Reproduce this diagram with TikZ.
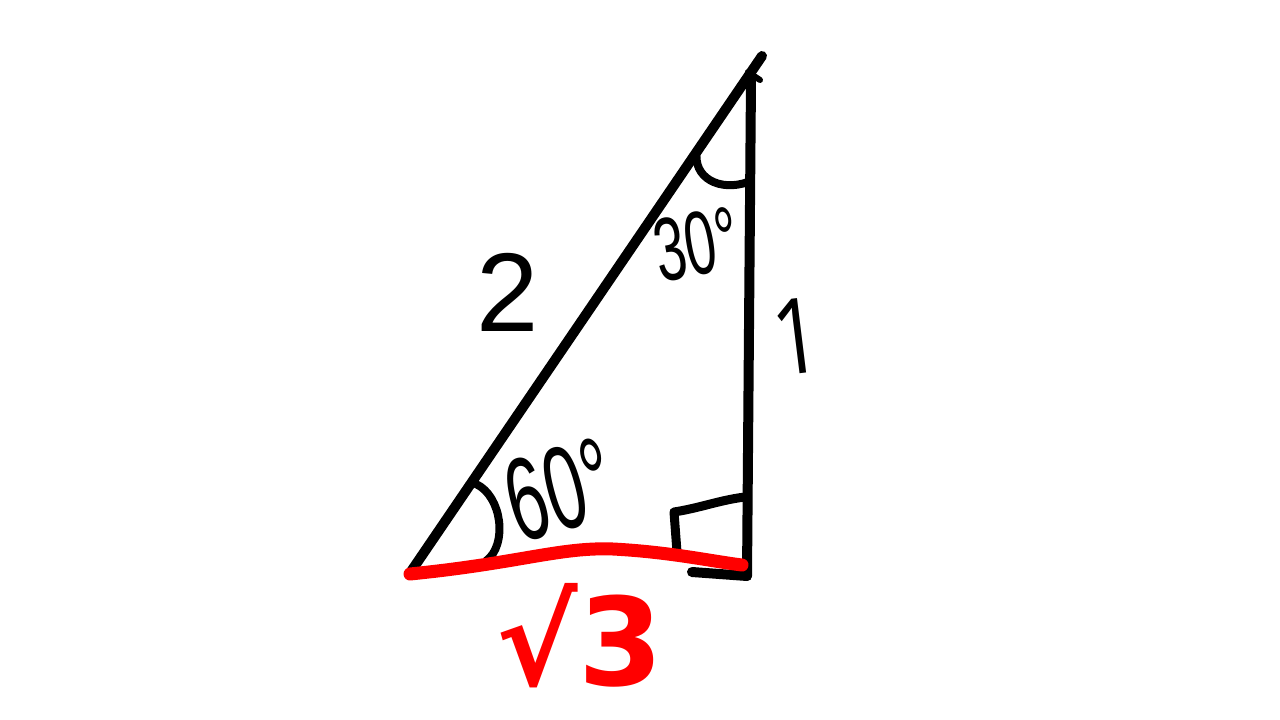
\documentclass[tikz,border=0pt]{standalone}
\usepackage{fontspec}
\setmainfont{Liberation Sans}
\newfontfamily\djv{DejaVu Sans}
\newfontfamily\opn{Open Sans}
\begin{document}
\begin{tikzpicture}[x=1pt,y=-1pt,
  ink/.style={line width=10pt,line cap=round,line join=round,black},
  thin ink/.style={line width=8pt,line cap=round,line join=round,black},
  redink/.style={line width=13pt,line cap=round,line join=round,red},
  lbl/.style={inner sep=0pt,outer sep=0pt}]
\useasboundingbox[fill=white] (0,0) rectangle (1280,720);
% vertices
\coordinate (A) at (410,573);
\coordinate (C) at (762,56);
\coordinate (T) at (751,80);
\coordinate (B) at (747,576);
\coordinate (Bm) at (692,572);
% sides
\draw[ink] (A) -- (C);
\draw[ink] (T) -- (B);
\draw[ink] (Bm) -- (B);
\coordinate (t1) at (748,72);
\coordinate (t2) at (760,80);
\draw[thin ink,line width=6pt] (t1) -- (t2);
% right angle mark
\coordinate (r1) at (677,552);
\coordinate (r2) at (674,512);
\coordinate (r3) at (745,497);
\draw[thin ink,line width=9pt] (r1) -- (r2) .. controls (700,508) and (720,500) .. (r3);
% angle arcs
\coordinate (a1) at (476,484);
\coordinate (a2) at (486,561);
\draw[thin ink] (a1) .. controls (502,496) and (508,545) .. (a2);
\coordinate (c1) at (697,150);
\coordinate (c2) at (748,182);
\draw[thin ink] (c1) .. controls (692,178) and (720,192) .. (c2);
% red base
\coordinate (ra) at (410,574);
\coordinate (rm) at (613,549);
\coordinate (rb) at (742,565);
\draw[redink] (ra) .. controls (520,563) and (560,547) .. (rm) .. controls (670,552) and (710,561) .. (rb);
% labels
\node[lbl,font=\fontsize{112}{112}\selectfont] (two) at (508,292) {2};
\node[lbl,rotate=7,xscale=0.8,font=\opn\fontsize{105}{105}\selectfont] (one) at (797,336) {1};
\node[lbl,anchor=base west,rotate=10,xscale=0.62,font=\fontsize{90}{90}\selectfont] (thirty) at (660,282) {30°};
\node[lbl,anchor=base west,rotate=15,xscale=0.6,font=\fontsize{118}{118}\selectfont] (sixty) at (518,543) {60°};
\node[lbl,text=red,font=\djv\bfseries\fontsize{122}{122}\selectfont] (root) at (580,636) {√3};
\end{tikzpicture}
\end{document}
